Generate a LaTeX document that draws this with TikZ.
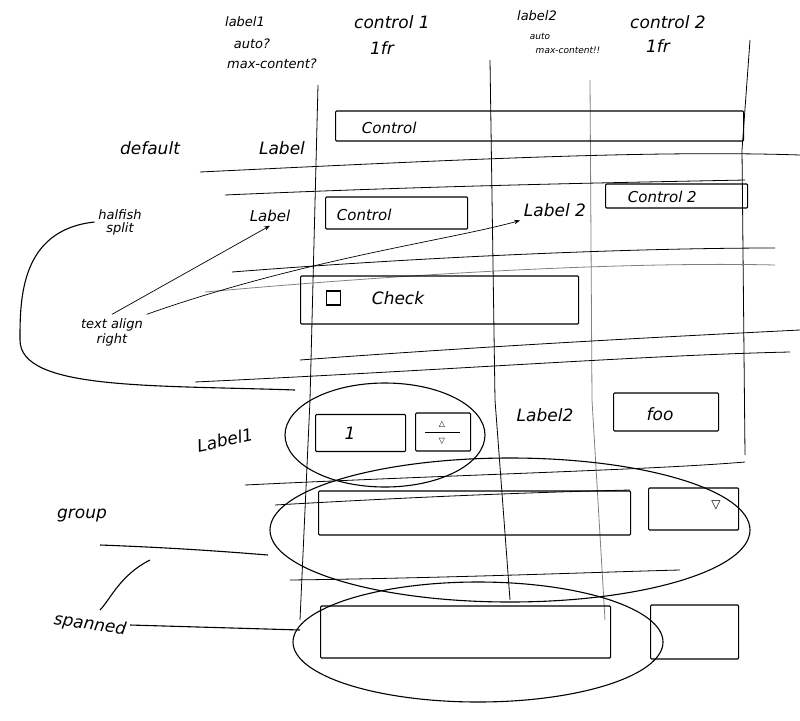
\documentclass[tikz,border=0pt]{standalone}
\usepackage{fontspec}
\setmainfont{DejaVu Sans}
\usetikzlibrary{arrows.meta}
\begin{document}
\begin{tikzpicture}[x=1pt,y=-1pt,line width=1.1pt,
  hand/.style={font=\fontsize{17}{19}\selectfont\itshape},
  mid/.style={font=\fontsize{15}{17}\selectfont\itshape},
  small/.style={font=\fontsize{13}{15}\selectfont\itshape},
  tiny/.style={font=\fontsize{9}{10}\selectfont\itshape},
  box/.style={draw,rounded corners=1pt},
  grid/.style={line width=0.8pt}]
\useasboundingbox (0,0) rectangle (800,720);
% header
\node[small] (h1) at (245,22) {label1};
\node[small] (h2) at (252,44) {auto?};
\node[small] (h3) at (272,64) {max-content?};
\node[hand] (h4) at (392,22) {control 1};
\node[hand] (h5) at (382,48) {1fr};
\node[small] (h6) at (537,16) {label2};
\node[tiny] (h7) at (540,36) {auto};
\node[tiny] (h8) at (568,50) {max-content!!};
\node[hand] (h9) at (668,22) {control 2};
\node[hand] (h10) at (658,46) {1fr};
% column lines
\draw[grid] (318,85) -- (310,400) -- (300,620);
\draw[grid] (490,60) -- (495,400) -- (510,600);
\draw[grid,gray] (590,80) -- (592,400) -- (605,620);
\draw[grid] (750,40) -- (742,150) -- (745,455);
% row lines
\draw[grid] (200,172) .. controls (450,160) and (650,150) .. (800,155);
\draw[grid] (225,195) .. controls (450,185) and (650,182) .. (745,180);
\draw[grid] (232,272) .. controls (450,255) and (650,248) .. (775,248);
\draw[grid,gray] (205,292) .. controls (450,270) and (650,262) .. (775,265);
\draw[grid] (300,360) .. controls (500,345) and (700,335) .. (800,330);
\draw[grid] (195,382) .. controls (450,370) and (650,355) .. (790,352);
\draw[grid] (245,485) .. controls (450,475) and (650,470) .. (745,462);
\draw[grid] (275,505) .. controls (450,495) and (550,492) .. (630,490);
\draw[grid] (290,580) .. controls (450,578) and (600,572) .. (680,570);
% default row
\node[hand] (d) at (150,148) {default};
\node[hand] (dl) at (282,148) {Label};
\node[box,minimum width=408,minimum height=30,anchor=west] (dc) at (335,126) {};
\node[mid,anchor=west] at (358,128) {Control};
% halfish row
\node[small,align=center] (hs) at (120,222) {halfish\\[-2pt]split};
\node[mid] (hl) at (270,216) {Label};
\node[box,minimum width=142,minimum height=32,anchor=west] (hc) at (325,213) {};
\node[mid,anchor=west] at (333,215) {Control};
\node[hand] (hl2) at (555,210) {Label 2};
\node[box,minimum width=142,minimum height=24,anchor=west] (hc2) at (605,196) {};
\node[mid,anchor=west] at (624,197) {Control 2};
\node[small,align=center] (ta) at (112,332) {text align\\right};
\draw[-{Stealth[length=6pt]},line width=0.7pt] (ta.north) -- (hl.south);
\draw[-{Stealth[length=6pt]},line width=0.7pt] (ta.north east) .. controls (300,260) and (450,240) .. (hl2.south west);
% check row
\node[box,minimum width=278,minimum height=48,anchor=west] (ck) at (300,300) {};
\node[draw,minimum size=14,anchor=west] (cb) at (326,298) {};
\node[hand,anchor=west] (ct) at (368,298) {Check};
\draw (hs.west) .. controls (20,230) and (20,300) .. (20,340) .. controls (20,390) and (150,385) .. (295,390);
% label1 row
\node[hand,rotate=12] (l1) at (225,440) {Label1};
\node[box,minimum width=90,minimum height=37,anchor=west] (n1) at (315,433) {};
\node[hand] at (350,433) {1};
\node[box,minimum width=55,minimum height=38,anchor=west] (sp) at (415,432) {};
\node[font=\fontsize{8}{9}\selectfont] at (442,424) {△};
\node[font=\fontsize{8}{9}\selectfont] at (442,441) {▽};
\draw[line width=0.7pt] (425,432) -- (460,432);
\draw (385,435) ellipse (100 and 52);
\node[hand] (l2) at (545,415) {Label2};
\node[box,minimum width=105,minimum height=38,anchor=west] (foo) at (613,412) {};
\node[hand] at (660,414) {foo};
% group row
\node[hand] (g) at (82,515) {group};
\draw (100,545) .. controls (180,548) and (230,552) .. (268,555);
\draw (510,530) ellipse (240 and 72);
\node[box,minimum width=312,minimum height=44,anchor=west] (gb) at (318,513) {};
\node[box,minimum width=90,minimum height=42,anchor=west] (dd) at (648,509) {};
\node[font=\fontsize{12}{13}\selectfont] at (716,505) {▽};
\draw (150,560) .. controls (120,575) and (110,600) .. (100,610);
% spanned row
\node[hand,rotate=-8] (s) at (90,625) {spanned};
\draw (130,625) -- (300,630);
\draw (478,642) ellipse (185 and 60);
\node[box,minimum width=290,minimum height=52,anchor=west] (sb) at (320,632) {};
\node[box,minimum width=88,minimum height=54,anchor=west] (sb2) at (650,632) {};
\end{tikzpicture}
\end{document}
